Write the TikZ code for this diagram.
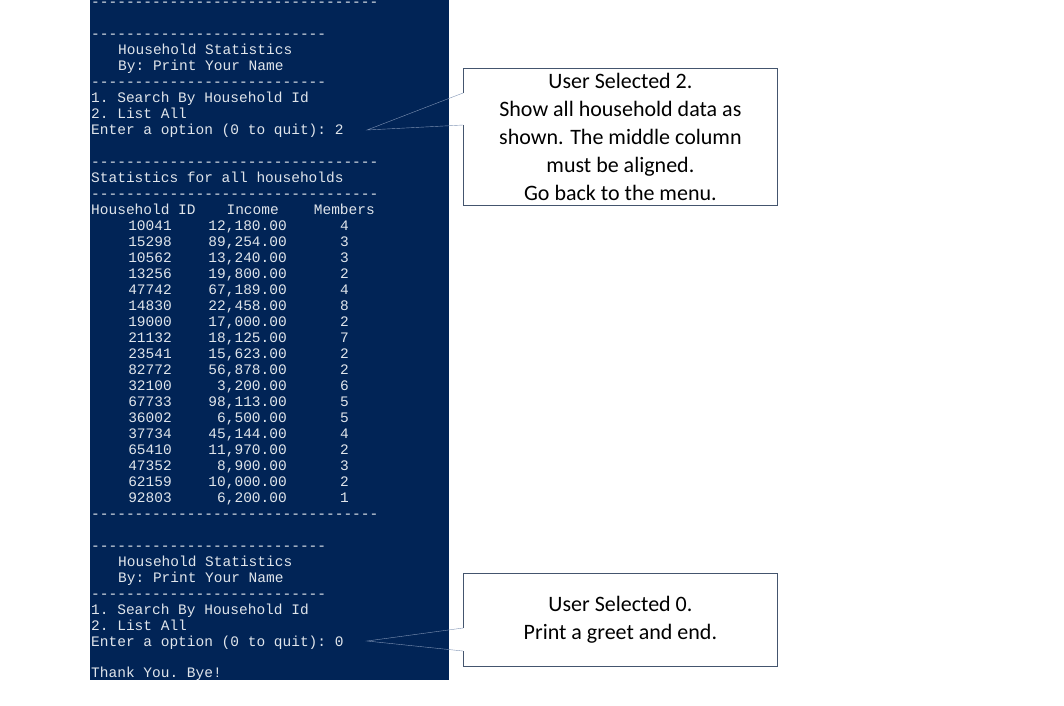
\documentclass[tikz,border=0pt]{standalone}
\usepackage{fontspec}
\setmainfont{Carlito}
\setmonofont{Liberation Mono}
\usetikzlibrary{positioning}
\definecolor{consolebg}{HTML}{012456}
\definecolor{boxline}{HTML}{44556E}
\definecolor{pointline}{HTML}{7F93B4}

\begin{document}
\begin{tikzpicture}[
    x=1pt, y=-1pt,
    console/.style={anchor=base west, inner sep=0pt, text=white!88!consolebg, font=\ttfamily\fontsize{14.5}{16}\selectfont},
    cell/.style={console, anchor=base east},
    note/.style={draw=boxline, thick, fill=white, align=center, inner sep=0pt, font=\fontsize{22}{28}\selectfont}
]
    \useasboundingbox (0,0) rectangle (1064,705);

    % Console window
    \fill[consolebg] (90,0) rectangle (449,680);

    % First menu
    \node[console] (dash0) at (91,6) {\string---------------------------------};
    \node[console] (dash1) at (91,38) {\string---------------------------};
    \node[console] (title1) at (118,54) {Household Statistics};
    \node[console] (name1) at (118,70) {By: Print Your Name};
    \node[console] (dash2) at (91,86) {\string---------------------------};
    \node[console] (opt1) at (91,102) {1. Search By Household Id};
    \node[console] (opt2) at (91,118) {2. List All};
    \node[console] (enter1) at (91,134) {Enter a option (0 to quit): 2};

    % Table of all households
    \node[console] (dash3) at (91,166) {\string---------------------------------};
    \node[console] (stats) at (91,182) {Statistics for all households};
    \node[console] (dash4) at (91,198) {\string---------------------------------};
    \node[console] (headid) at (91,214) {Household ID};
    \node[cell] (headinc) at (279,214) {Income};
    \node[cell] (headmem) at (375,214) {Members};
    \foreach \hid/\inc/\mem [count=\i] in {
        10041/12{,}180.00/4, 15298/89{,}254.00/3, 10562/13{,}240.00/3,
        13256/19{,}800.00/2, 47742/67{,}189.00/4, 14830/22{,}458.00/8,
        19000/17{,}000.00/2, 21132/18{,}125.00/7, 23541/15{,}623.00/2,
        82772/56{,}878.00/2, 32100/3{,}200.00/6, 67733/98{,}113.00/5,
        36002/6{,}500.00/5, 37734/45{,}144.00/4, 65410/11{,}970.00/2,
        47352/8{,}900.00/3, 62159/10{,}000.00/2, 92803/6{,}200.00/1} {
        \node[cell] (id\i) at (172,214+16*\i) {\hid};
        \node[cell] (inc\i) at (287,214+16*\i) {\inc};
        \node[cell] (mem\i) at (349,214+16*\i) {\mem};
    }
    \node[console] (dash5) at (91,518) {\string---------------------------------};

    % Second menu
    \node[console] (dash6) at (91,550) {\string---------------------------};
    \node[console] (title2) at (118,566) {Household Statistics};
    \node[console] (name2) at (118,582) {By: Print Your Name};
    \node[console] (dash7) at (91,598) {\string---------------------------};
    \node[console] (opt3) at (91,614) {1. Search By Household Id};
    \node[console] (opt4) at (91,630) {2. List All};
    \node[console] (enter2) at (91,646) {Enter a option (0 to quit): 0};
    \node[console] (bye) at (91,677) {Thank You. Bye!};

    % Callouts
    \node[note, minimum width=314pt, minimum height=137pt, anchor=north west] (note1) at (463,68)
        {User Selected 2.\\Show all household data as\\shown. The middle column\\must be aligned.\\Go back to the menu.};
    \node[note, minimum width=314pt, minimum height=93pt, anchor=north west] (note2) at (463,573)
        {User Selected 0.\\Print a greet and end.};

    \coordinate (tip1) at (367,130);
    \coordinate (tip2) at (367,641);
    \fill[white] (note1.west |- 0,93) rectangle ([xshift=2pt]note1.west |- 0,125);
    \draw[pointline] (note1.west |- 0,93) -- (tip1) -- (note1.west |- 0,125);
    \draw[boxline, thick] (note1.west |- 0,93) -- +(0,-25);
    \draw[boxline, thick] (note1.west |- 0,125) -- +(0,80);
    \fill[white] (note2.west |- 0,628) rectangle ([xshift=2pt]note2.west |- 0,651);
    \draw[pointline] (note2.west |- 0,628) -- (tip2) -- (note2.west |- 0,651);
    \draw[boxline, thick] (note2.west |- 0,628) -- +(0,-55);
    \draw[boxline, thick] (note2.west |- 0,651) -- +(0,15);
\end{tikzpicture}
\end{document}
